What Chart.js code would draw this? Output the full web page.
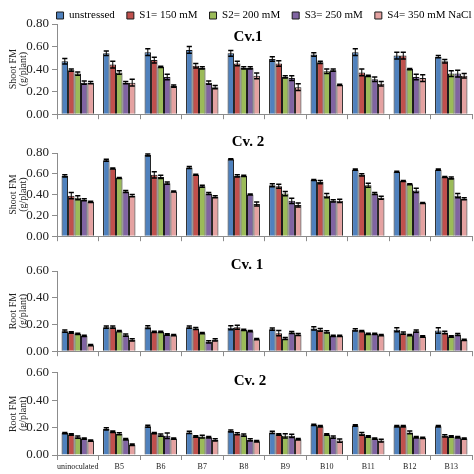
<!DOCTYPE html>
<html>
<head>
<meta charset="utf-8">
<script src="https://cdn.jsdelivr.net/npm/chart.js@4.4.1/dist/chart.umd.min.js"></script>
<style>
  html, body { margin: 0; padding: 0; background: #fff; }
  #wrap { position: relative; width: 474px; height: 474px; overflow: hidden; background: #fff; }
  .panel { position: absolute; left: 0; width: 474px; }
</style>
</head>
<body>
<div id="wrap">
  <div class="panel" id="p1" style="top:0px;height:125px"><canvas id="c1"></canvas></div>
  <div class="panel" id="p2" style="top:130px;height:117px"><canvas id="c2"></canvas></div>
  <div class="panel" id="p3" style="top:250px;height:112px"><canvas id="c3"></canvas></div>
  <div class="panel" id="p4" style="top:362px;height:112px"><canvas id="c4"></canvas></div>
</div>
<script>
// ---------- DATA ----------
const categories = ['uninoculated', 'B5', 'B6', 'B7', 'B8', 'B9', 'B10', 'B11', 'B12', 'B13'];
const seriesNames = ['unstressed', 'S1= 150 mM', 'S2= 200 mM', 'S3= 250 mM', 'S4= 350 mM NaCl'];
const shootTicks = [0, 0.2, 0.4, 0.6, 0.8];
const rootTicks = [0, 0.2, 0.4, 0.6];

// Shoot FM Cv.1 (per series, over categories)
const shootCv1_unstressed = [0.47, 0.54, 0.55, 0.57, 0.54, 0.49, 0.53, 0.55, 0.52, 0.51];
const shootCv1_S1 = [0.39, 0.44, 0.48, 0.43, 0.45, 0.45, 0.46, 0.37, 0.52, 0.47];
const shootCv1_S2 = [0.36, 0.37, 0.42, 0.41, 0.41, 0.33, 0.38, 0.34, 0.40, 0.36];
const shootCv1_S3 = [0.28, 0.28, 0.33, 0.28, 0.41, 0.32, 0.39, 0.31, 0.33, 0.36];
const shootCv1_S4 = [0.28, 0.28, 0.25, 0.24, 0.34, 0.24, 0.26, 0.27, 0.32, 0.34];
const shootCv1_err_unstressed = [0.025, 0.02, 0.03, 0.03, 0.025, 0.02, 0.015, 0.03, 0.03, 0.01];
const shootCv1_err_S1 = [0.01, 0.03, 0.025, 0.02, 0.02, 0.025, 0.01, 0.03, 0.03, 0.015];
const shootCv1_err_S2 = [0.015, 0.015, 0.005, 0.01, 0.01, 0.01, 0.02, 0.005, 0.005, 0.025];
const shootCv1_err_S3 = [0.015, 0.01, 0.025, 0.015, 0.01, 0.02, 0.01, 0.02, 0.025, 0.03];
const shootCv1_err_S4 = [0.01, 0.03, 0.01, 0.015, 0.025, 0.03, 0.005, 0.02, 0.03, 0.02];

// Shoot FM Cv.2
const shootCv2_unstressed = [0.58, 0.73, 0.78, 0.66, 0.74, 0.49, 0.54, 0.64, 0.62, 0.64];
const shootCv2_S1 = [0.39, 0.65, 0.59, 0.59, 0.58, 0.48, 0.52, 0.59, 0.53, 0.57];
const shootCv2_S2 = [0.37, 0.56, 0.57, 0.48, 0.58, 0.41, 0.39, 0.49, 0.50, 0.56];
const shootCv2_S3 = [0.35, 0.43, 0.51, 0.41, 0.40, 0.34, 0.34, 0.41, 0.44, 0.39];
const shootCv2_S4 = [0.33, 0.39, 0.43, 0.38, 0.31, 0.30, 0.34, 0.37, 0.32, 0.36];
const shootCv2_err_unstressed = [0.01, 0.01, 0.01, 0.01, 0.005, 0.015, 0.005, 0.005, 0.005, 0.005];
const shootCv2_err_S1 = [0.03, 0.005, 0.03, 0.005, 0.01, 0.02, 0.015, 0.01, 0.005, 0.005];
const shootCv2_err_S2 = [0.02, 0.005, 0.015, 0.01, 0.005, 0.02, 0.02, 0.02, 0.005, 0.01];
const shootCv2_err_S3 = [0.01, 0.01, 0.01, 0.01, 0.005, 0.025, 0.01, 0.01, 0.02, 0.02];
const shootCv2_err_S4 = [0.005, 0.01, 0.005, 0.01, 0.02, 0.02, 0.015, 0.015, 0.005, 0.01];

// Root FM Cv.1
const rootCv1_unstressed = [0.15, 0.18, 0.18, 0.18, 0.175, 0.165, 0.17, 0.16, 0.16, 0.155];
const rootCv1_S1 = [0.14, 0.18, 0.145, 0.17, 0.18, 0.135, 0.16, 0.15, 0.135, 0.14];
const rootCv1_S2 = [0.13, 0.15, 0.145, 0.135, 0.16, 0.095, 0.145, 0.13, 0.12, 0.11];
const rootCv1_S3 = [0.115, 0.12, 0.125, 0.07, 0.15, 0.14, 0.115, 0.13, 0.15, 0.125];
const rootCv1_S4 = [0.045, 0.085, 0.12, 0.085, 0.09, 0.125, 0.115, 0.12, 0.11, 0.085];
const rootCv1_err_unstressed = [0.008, 0.008, 0.01, 0.008, 0.015, 0.008, 0.012, 0.008, 0.015, 0.02];
const rootCv1_err_S1 = [0.005, 0.008, 0.005, 0.008, 0.015, 0.02, 0.01, 0.005, 0.008, 0.01];
const rootCv1_err_S2 = [0.005, 0.005, 0.005, 0.005, 0.005, 0.008, 0.008, 0.005, 0.005, 0.005];
const rootCv1_err_S3 = [0.005, 0.008, 0.005, 0.008, 0.005, 0.008, 0.005, 0.005, 0.008, 0.008];
const rootCv1_err_S4 = [0.005, 0.008, 0.005, 0.008, 0.005, 0.008, 0.005, 0.005, 0.005, 0.005];

// Root FM Cv.2
const rootCv2_unstressed = [0.16, 0.19, 0.21, 0.165, 0.175, 0.165, 0.22, 0.215, 0.21, 0.21];
const rootCv2_S1 = [0.15, 0.17, 0.16, 0.135, 0.155, 0.15, 0.21, 0.155, 0.21, 0.14];
const rootCv2_S2 = [0.13, 0.155, 0.145, 0.135, 0.145, 0.14, 0.15, 0.135, 0.165, 0.135];
const rootCv2_S3 = [0.12, 0.115, 0.14, 0.13, 0.11, 0.14, 0.13, 0.12, 0.13, 0.13];
const rootCv2_S4 = [0.105, 0.075, 0.12, 0.11, 0.10, 0.115, 0.105, 0.105, 0.125, 0.12];
const rootCv2_err_unstressed = [0.005, 0.008, 0.008, 0.008, 0.008, 0.008, 0.005, 0.005, 0.005, 0.005];
const rootCv2_err_S1 = [0.005, 0.005, 0.005, 0.005, 0.008, 0.005, 0.005, 0.01, 0.005, 0.008];
const rootCv2_err_S2 = [0.008, 0.008, 0.008, 0.01, 0.008, 0.015, 0.005, 0.005, 0.01, 0.005];
const rootCv2_err_S3 = [0.005, 0.005, 0.02, 0.005, 0.008, 0.012, 0.008, 0.005, 0.005, 0.005];
const rootCv2_err_S4 = [0.005, 0.005, 0.005, 0.008, 0.005, 0.005, 0.012, 0.01, 0.005, 0.005];

// ---------- STYLE ----------
const colors = ['#4f81bd', '#c0504d', '#9bbb59', '#8064a2', '#e4a2a1'];
const SERIF = "'Liberation Serif', 'Times New Roman', serif";

// error bar plugin
const errorBarPlugin = {
  id: 'errorBars',
  afterDatasetsDraw(chart) {
    const ctx = chart.ctx;
    const yScale = chart.scales.y;
    ctx.save();
    ctx.strokeStyle = '#000';
    chart.data.datasets.forEach((ds, i) => {
      if (!ds.errors) return;
      const meta = chart.getDatasetMeta(i);
      meta.data.forEach((el, j) => {
        const v = ds.data[j], e = ds.errors[j];
        const yt = yScale.getPixelForValue(v + e);
        const yb = yScale.getPixelForValue(v - e);
        const hw = el.width * 0.4;
        ctx.lineWidth = 1;
        ctx.beginPath();
        ctx.moveTo(el.x, yt); ctx.lineTo(el.x, yb);
        ctx.stroke();
        ctx.lineWidth = 1.5;
        ctx.beginPath();
        ctx.moveTo(el.x - hw, yt); ctx.lineTo(el.x + hw, yt);
        ctx.moveTo(el.x - hw, yb); ctx.lineTo(el.x + hw, yb);
        ctx.stroke();
      });
    });
    ctx.restore();
  }
};

// panel title plugin
const panelTitlePlugin = {
  id: 'panelTitle',
  afterDraw(chart, args, opts) {
    if (!opts || !opts.text) return;
    const ctx = chart.ctx;
    ctx.save();
    ctx.font = 'bold 15px ' + SERIF;
    ctx.fillStyle = '#000';
    ctx.textAlign = 'center';
    ctx.textBaseline = 'middle';
    ctx.fillText(opts.text, opts.x, opts.y);
    ctx.restore();
  }
};

// legend height trim / shift plugin
const legendTrimPlugin = {
  id: 'legendTrim',
  afterInit(chart, args, opts) {
    const lg = chart.legend;
    if (!lg || !opts || !opts.height) return;
    const origFit = lg.fit.bind(lg);
    lg.fit = function () { origFit(); if (this.height > 0) this.height = opts.height; };
    const origDraw = lg.draw.bind(lg);
    lg.draw = function () {
      const c = this.ctx;
      c.save();
      c.translate(opts.dx || 0, opts.dy || 0);
      origDraw();
      c.restore();
    };
  }
};

function makeDatasets(values, errors) {
  return seriesNames.map((name, i) => ({
    label: name,
    data: values[i],
    errors: errors[i],
    backgroundColor: colors[i],
    borderColor: '#1a1a1a',
    borderWidth: 1,
    categoryPercentage: 0.78,
    barPercentage: 1.0
  }));
}

function makeChart(id, cfg) {
  const ctx = document.getElementById(id);
  return new Chart(ctx, {
    type: 'bar',
    data: { labels: categories, datasets: makeDatasets(cfg.values, cfg.errors) },
    plugins: [errorBarPlugin, panelTitlePlugin, legendTrimPlugin],
    options: {
      responsive: true,
      maintainAspectRatio: false,
      animation: false,
      layout: { padding: { top: cfg.padTop, bottom: 2, left: 0, right: 2 } },
      plugins: {
        legend: {
          display: !!cfg.legend,
          position: 'top',
          labels: {
            boxWidth: 7, boxHeight: 7, padding: 12,
            color: '#000',
            font: { family: SERIF, size: 11 }
          }
        },
        legendTrim: { height: cfg.legendHeight || 0, dx: 28, dy: -2 },
        tooltip: { enabled: false },
        panelTitle: { text: cfg.title, x: cfg.titleX, y: cfg.titleY }
      },
      scales: {
        x: {
          grid: { display: true, drawOnChartArea: false, drawTicks: true, tickLength: 5, color: '#8c8c8c', offset: true },
          border: { display: true, color: '#8c8c8c', width: 1 },
          ticks: {
            display: !!cfg.xLabels,
            color: '#222',
            padding: 2,
            maxRotation: 0, autoSkip: false,
            font: { family: SERIF, size: 8 }
          },
          afterFit(scale) { scale.height = cfg.xLabels ? 17 : 6; }
        },
        y: {
          min: 0,
          max: cfg.ticks[cfg.ticks.length - 1],
          afterBuildTicks(scale) { scale.ticks = cfg.ticks.map(v => ({ value: v })); },
          grid: { display: true, drawOnChartArea: false, drawTicks: true, tickLength: 5, color: '#8c8c8c' },
          border: { display: true, color: '#8c8c8c', width: 1 },
          ticks: {
            color: '#222',
            padding: 3,
            font: { family: SERIF, size: 13 },
            callback: (v) => Number(v).toFixed(2)
          },
          title: {
            display: true,
            text: cfg.yTitle,
            color: '#222',
            font: { family: SERIF, size: 10, lineHeight: 1.0 },
            padding: { top: 8, bottom: 0 }
          },
          afterFit(scale) { scale.width = 57; }
        }
      }
    }
  });
}

makeChart('c1', {
  values: [shootCv1_unstressed, shootCv1_S1, shootCv1_S2, shootCv1_S3, shootCv1_S4],
  errors: [shootCv1_err_unstressed, shootCv1_err_S1, shootCv1_err_S2, shootCv1_err_S3, shootCv1_err_S4],
  ticks: shootTicks, yTitle: ['Shoot FM', '(g/plant)'],
  legend: true, legendHeight: 24, padTop: 0,
  title: 'Cv.1', titleX: 248, titleY: 37
});
makeChart('c2', {
  values: [shootCv2_unstressed, shootCv2_S1, shootCv2_S2, shootCv2_S3, shootCv2_S4],
  errors: [shootCv2_err_unstressed, shootCv2_err_S1, shootCv2_err_S2, shootCv2_err_S3, shootCv2_err_S4],
  ticks: shootTicks, yTitle: ['Shoot FM', '(g/plant)'],
  padTop: 23,
  title: 'Cv. 2', titleX: 248, titleY: 12
});
makeChart('c3', {
  values: [rootCv1_unstressed, rootCv1_S1, rootCv1_S2, rootCv1_S3, rootCv1_S4],
  errors: [rootCv1_err_unstressed, rootCv1_err_S1, rootCv1_err_S2, rootCv1_err_S3, rootCv1_err_S4],
  ticks: rootTicks, yTitle: ['Root FM', '(g/plant)'],
  padTop: 21,
  title: 'Cv. 1', titleX: 247, titleY: 15
});
makeChart('c4', {
  values: [rootCv2_unstressed, rootCv2_S1, rootCv2_S2, rootCv2_S3, rootCv2_S4],
  errors: [rootCv2_err_unstressed, rootCv2_err_S1, rootCv2_err_S2, rootCv2_err_S3, rootCv2_err_S4],
  ticks: rootTicks, yTitle: ['Root FM', '(g/plant)'],
  padTop: 8, xLabels: true,
  title: 'Cv. 2', titleX: 250, titleY: 19
});
</script>
</body>
</html>
